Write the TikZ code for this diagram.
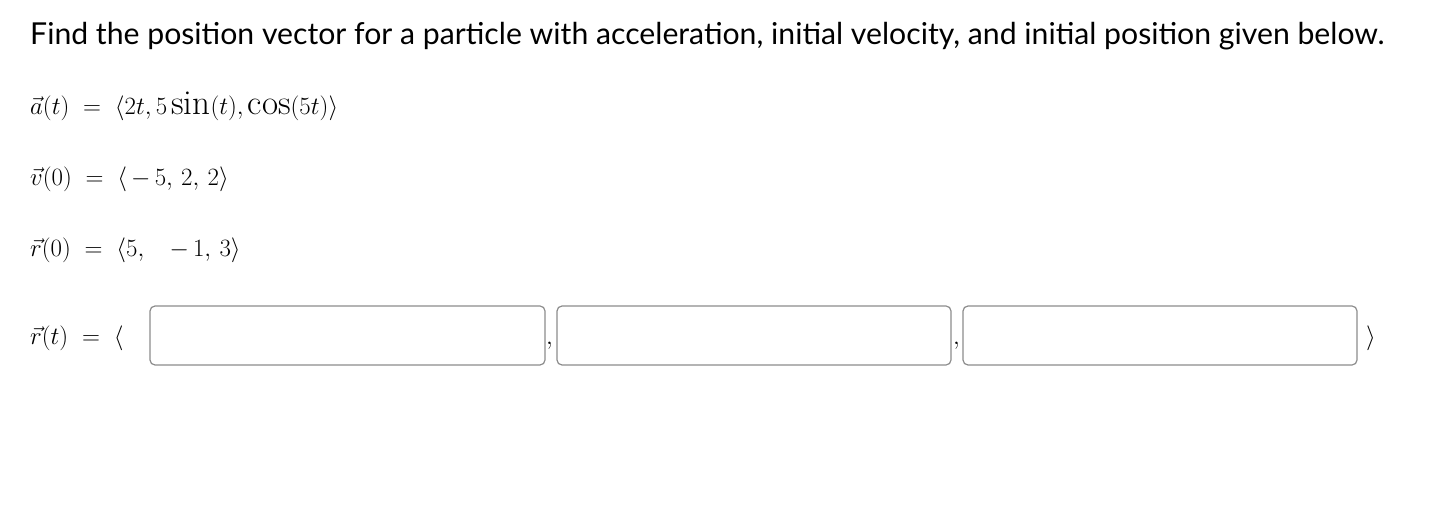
\documentclass[tikz,border=0pt]{standalone}
\usepackage{amsmath}
\usepackage{fontspec}
\newfontfamily\lato{Lato}
\begin{document}
\begin{tikzpicture}[x=1pt,y=-1pt,
  txt/.style={anchor=base west,inner sep=0pt,font=\fontsize{35}{38}\selectfont},
  ans/.style={draw=black!45,line width=1.2pt,rounded corners=5pt}]
\useasboundingbox (0,0) rectangle (1446,518);
\node[txt,font=\lato\fontsize{30.2}{33}\selectfont] (title) at (30,45) {Find the position vector for a particle with acceleration, initial velocity, and initial position given below.};
\node[txt] (a) at (30,115) {$\vec a(t)\;=\;\langle 2t, 5\sin(t), \cos(5t)\rangle$};
\node[txt] (v) at (30,186) {$\vec v(0)\;=\;\langle\,-\,5,\,2,\,2\rangle$};
\node[txt] (r0) at (30,257) {$\vec r(0)\;=\;\langle 5,\ \ -\,1,\,3\rangle$};
\node[txt] (rt) at (30,345) {$\vec r(t)\;=\;\langle$};
\draw[ans] (150,306) rectangle (545,365);
\draw[ans] (557,306) rectangle (951,365);
\draw[ans] (963,306) rectangle (1357,365);
\node[txt] (c1) at (546,345) {$,$};
\node[txt] (c2) at (953,345) {$,$};
\node[txt] (close) at (1366,345) {$\rangle$};
\end{tikzpicture}
\end{document}
